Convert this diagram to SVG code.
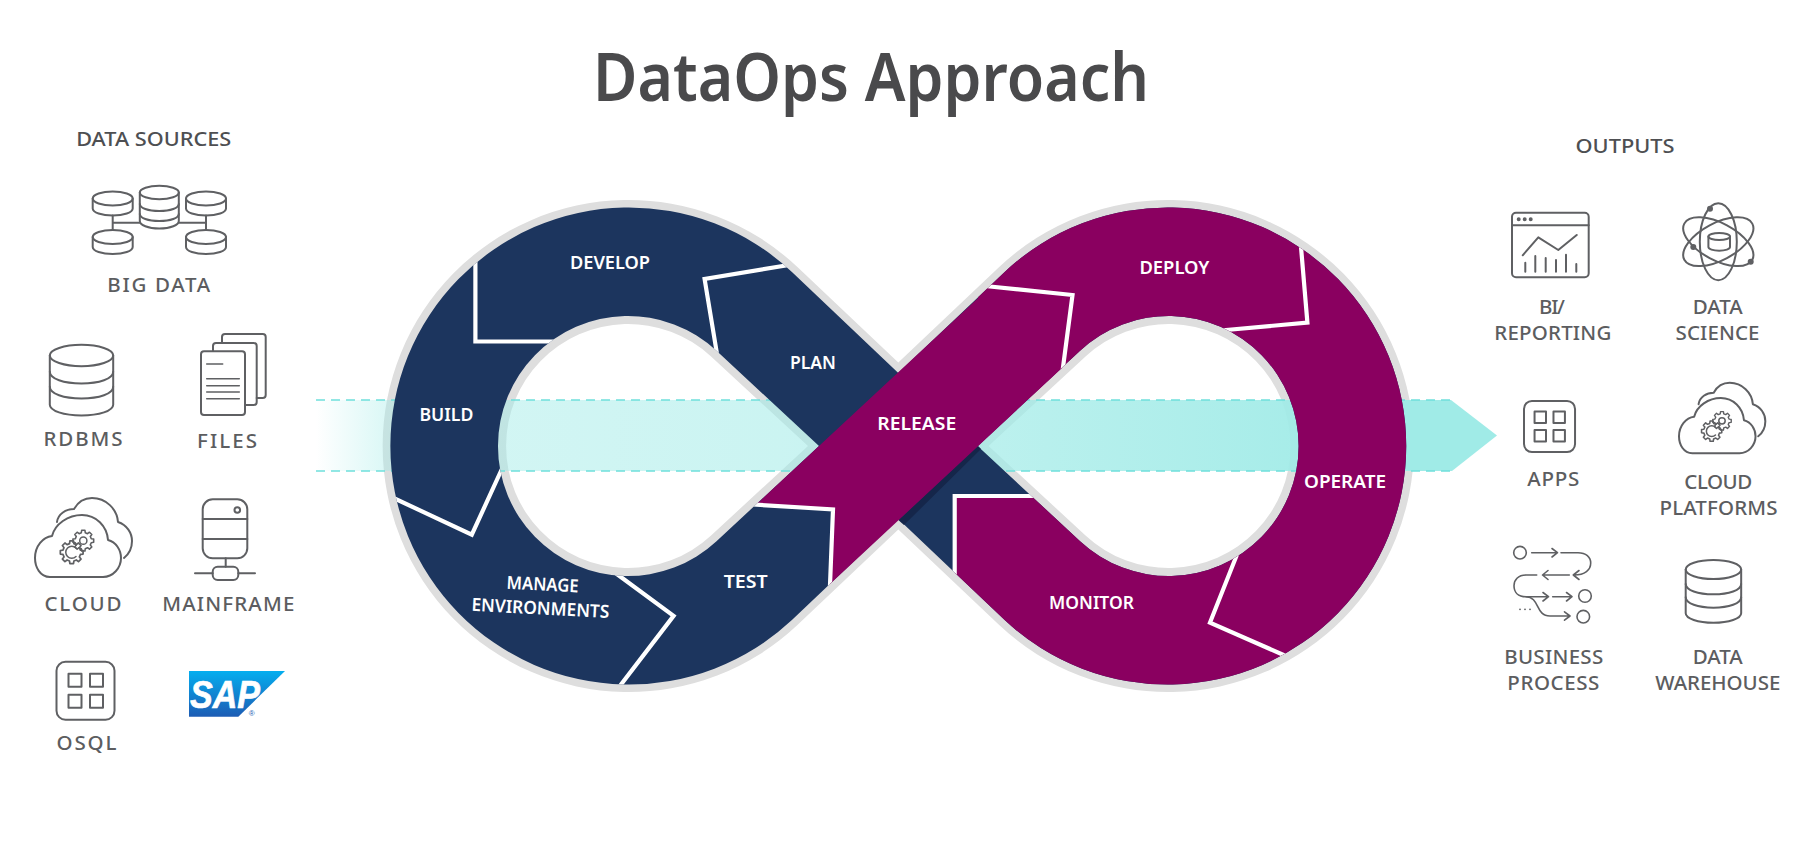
<svg xmlns="http://www.w3.org/2000/svg" xmlns:xlink="http://www.w3.org/1999/xlink" width="1800" height="842" viewBox="0 0 1800 842">
<style>
text{font-family:"Noto Sans","Open Sans","Liberation Sans",sans-serif;text-anchor:middle}
.seg{fill:#fff;font-size:18px;font-weight:600}
.lab{fill:#5c5d60;font-size:20.5px;font-weight:500}
.hd{fill:#4e4f52;font-size:20.5px;font-weight:500}
.ic{fill:none;stroke:#5f6063;stroke-width:2;stroke-linejoin:round;stroke-linecap:round}
.ic *{vector-effect:non-scaling-stroke}
.thin{stroke-width:1.5}
.sep{fill:none;stroke:#fff;stroke-width:4.2;stroke-linejoin:miter}
.dash{fill:none;stroke:#6fe0dc;stroke-width:1.6;stroke-dasharray:9 6}
</style>
<defs>
<linearGradient id="bandG" gradientUnits="userSpaceOnUse" x1="316" y1="0" x2="1497" y2="0">
<stop offset="0" stop-color="#a0ebe7" stop-opacity="0"/>
<stop offset="0.07" stop-color="#a0ebe7" stop-opacity="0.45"/>
<stop offset="0.4" stop-color="#a0ebe7" stop-opacity="0.55"/>
<stop offset="0.62" stop-color="#a0ebe7" stop-opacity="0.75"/>
<stop offset="0.92" stop-color="#a0ebe7" stop-opacity="1"/>
</linearGradient>
<linearGradient id="sapG" x1="0" y1="0" x2="0" y2="1">
<stop offset="0" stop-color="#04aeef"/><stop offset="1" stop-color="#1d5cb4"/>
</linearGradient>
<path id="ribbon" fill-rule="evenodd" d="M898.3,373 L792.2,272.2 A238.5,238.5 0 1 0 792.2,619.8 L898.3,519 L1004.4,619.8 A238.5,238.5 0 1 0 1004.4,272.2 Z M819,446 L716.5,350.8 A130,130 0 1 0 716.5,541.2 Z M977.6,446 L1080.1,350.8 A130,130 0 1 1 1080.1,541.2 Z"/>
<clipPath id="ribbonClip"><path clip-rule="evenodd" d="M898.3,373 L792.2,272.2 A238.5,238.5 0 1 0 792.2,619.8 L898.3,519 L1004.4,619.8 A238.5,238.5 0 1 0 1004.4,272.2 Z M819,446 L716.5,350.8 A130,130 0 1 0 716.5,541.2 Z M977.6,446 L1080.1,350.8 A130,130 0 1 1 1080.1,541.2 Z"/></clipPath>
<clipPath id="rightClip"><polygon points="954.7,842 954.7,496 1040,496 1040,446 978,446 978,0 1800,0 1800,842"/></clipPath>
<g id="db" class="ic">
<ellipse cx="31.7" cy="10.7" rx="31.7" ry="10.7"/>
<path d="M0,10.7 V60 C0,66 14,70.7 31.7,70.7 C49.4,70.7 63.4,66 63.4,60 V10.7"/>
<path d="M0,27 C0,34 14,38.7 31.7,38.7 C49.4,38.7 63.4,34 63.4,27"/>
<path d="M0,42 C0,49 14,53.7 31.7,53.7 C49.4,53.7 63.4,49 63.4,42"/>
</g>
<g id="smallDb" class="ic">
<ellipse cx="20" cy="7" rx="20" ry="7"/>
<path d="M0,7 V17 C0,21 9,24 20,24 C31,24 40,21 40,17 V7"/>
</g>
<g id="grid" class="ic">
<rect x="0" y="0" width="58" height="58" rx="9"/>
<rect x="12" y="12" width="13" height="13"/><rect x="33.5" y="12" width="13" height="13"/>
<rect x="12" y="33" width="13" height="13"/><rect x="33.5" y="33" width="13" height="13"/>
</g>
<path id="gear" d="M7.57,-1.89 L9.88,-1.56 L9.88,1.56 L7.57,1.89 L6.69,4.02 L8.09,5.88 L5.88,8.09 L4.02,6.69 L1.89,7.57 L1.56,9.88 L-1.56,9.88 L-1.89,7.57 L-4.02,6.69 L-5.88,8.09 L-8.09,5.88 L-6.69,4.02 L-7.57,1.89 L-9.88,1.56 L-9.88,-1.56 L-7.57,-1.89 L-6.69,-4.02 L-8.09,-5.88 L-5.88,-8.09 L-4.02,-6.69 L-1.89,-7.57 L-1.56,-9.88 L1.56,-9.88 L1.89,-7.57 L4.02,-6.69 L5.88,-8.09 L8.09,-5.88 L6.69,-4.02 Z"/>
<g id="cloud" class="ic">
<path d="M50,577 C40,577 35,567 35,558 C35,546 43,537 52,536 C55,524 68,515 82,515 C96,515 107,526 108,540 C116,542 121,550 121,558 C121,568 113,577 103,577 Z"/>
<path d="M57,522 C58,514 66,509 74,509 C78,502 85,498 92,498 C106,498 117,509 118,522 C127,525 132,533 132,541 C132,548 129,554 124,558"/>
<g style="stroke-width:1.5">
<use xlink:href="#gear" href="#gear" transform="translate(83.3,540.7) scale(1.05)"/>
<circle cx="83.3" cy="540.7" r="3.6"/>
<use xlink:href="#gear" href="#gear" transform="translate(71.7,552.3) scale(1.15)"/>
<path d="M76,548 A6,6 0 1 0 76,556.5"/>
</g>
</g>
</defs>
<rect width="1800" height="842" fill="#fff"/>
<text id="title" x="871" y="101" style="font-size:66px;font-weight:600;fill:#4a4a4c" textLength="556" lengthAdjust="spacingAndGlyphs">DataOps Approach</text>

<path id="ring" fill="#dedede" fill-rule="evenodd" d="M898.3,362.4 L797.4,267 A246,246 0 1 0 797.4,625 L898.3,529.6 L999.2,625 A246,246 0 1 0 999.2,267 Z M808,446 L710.8,356.3 A122,122 0 1 0 710.8,535.7 Z M988.6,446 L1085.8,356.3 A122,122 0 1 1 1085.8,535.7 Z"/>

<g id="connectors">
<polygon points="316,400 1451,400 1497,435.5 1452,471 316,471" fill="url(#bandG)"/>
<path class="dash" d="M316,400 H1451 M316,471 H1452"/>
</g>

<g id="loop">
<use xlink:href="#ribbon" href="#ribbon" fill="#1c355e"/>
<use xlink:href="#ribbon" href="#ribbon" fill="#8a0060" clip-path="url(#rightClip)"/>
<polygon points="978,446 898.3,520 904,525 981,449" fill="#15264a"/>
<polygon points="756,504.7 990.5,286.5 1072.5,295 1062,368 830,584 833,509.4" fill="#8a0060"/>
<g clip-path="url(#ribbonClip)">
<path class="sep" d="M475.4,250 V341.5 H560"/>
<path class="sep" d="M795,264 L704.6,279 L718,360"/>
<path class="sep" d="M385,494 L471.8,534.7 L506,460"/>
<path class="sep" d="M610,569 L673.6,615.8 L613,695"/>
<path class="sep" d="M745,504 L833,509.4 L829.6,595"/>
<path class="sep" d="M985,286 L1072.5,295 L1062,375"/>
<path class="sep" d="M1300,235 L1307.4,322.6 L1215,331"/>
<path class="sep" d="M1240,547 L1210,622.6 L1295,660"/>
<path class="sep" d="M954.7,585 V496 H1045"/>
</g>
</g>

<g id="seg-develop"><text class="seg" x="610" y="269" textLength="80" lengthAdjust="spacingAndGlyphs">DEVELOP</text></g>
<g id="seg-plan"><text class="seg" x="813" y="369" textLength="46" lengthAdjust="spacingAndGlyphs">PLAN</text></g>
<g id="seg-build"><text class="seg" x="446.4" y="420.5" textLength="54" lengthAdjust="spacingAndGlyphs">BUILD</text></g>
<g id="seg-manage" transform="rotate(3 541 596)"><text class="seg" x="542" y="590.5" textLength="72" lengthAdjust="spacingAndGlyphs">MANAGE</text><text class="seg" x="541" y="614.5" textLength="138" lengthAdjust="spacingAndGlyphs">ENVIRONMENTS</text></g>
<g id="seg-test"><text class="seg" x="745.7" y="587.8" textLength="44" lengthAdjust="spacingAndGlyphs">TEST</text></g>
<g id="seg-release"><text class="seg" x="916.8" y="430" textLength="79" lengthAdjust="spacingAndGlyphs">RELEASE</text></g>
<g id="seg-deploy"><text class="seg" x="1174.4" y="274" textLength="70" lengthAdjust="spacingAndGlyphs">DEPLOY</text></g>
<g id="seg-operate"><text class="seg" x="1345" y="488.4" textLength="82" lengthAdjust="spacingAndGlyphs">OPERATE</text></g>
<g id="seg-monitor"><text class="seg" x="1091.5" y="609.4" textLength="85" lengthAdjust="spacingAndGlyphs">MONITOR</text></g>

<g id="src-head"><text class="hd" x="153.7" y="146" textLength="155" lengthAdjust="spacingAndGlyphs">DATA SOURCES</text></g>
<g id="src-bigdata">
<g class="ic">
<use xlink:href="#smallDb" href="#smallDb" x="92.7" y="191.5"/>
<use xlink:href="#smallDb" href="#smallDb" x="186" y="191.5"/>
<use xlink:href="#smallDb" href="#smallDb" x="92.7" y="230"/>
<use xlink:href="#smallDb" href="#smallDb" x="186" y="230"/>
<ellipse cx="159.3" cy="192.5" rx="19.5" ry="6.7"/>
<path d="M139.8,192.5 V221 C139.8,225 148,228.5 159.3,228.5 C170.6,228.5 178.8,225 178.8,221 V192.5"/>
<path d="M139.8,204 C139.8,208 148,211 159.3,211 C170.6,211 178.8,208 178.8,204"/>
<path d="M139.8,214 C139.8,218 148,221 159.3,221 C170.6,221 178.8,218 178.8,214"/>
<path d="M112.7,215.5 V230 M206,215.5 V230 M112.7,222.7 H139.8 M178.8,222.7 H206"/>
</g>
<text class="lab" x="158.8" y="292" textLength="103" lengthAdjust="spacing">BIG DATA</text>
</g>
<g id="src-rdbms">
<use xlink:href="#db" href="#db" x="49.8" y="344.8"/>
<text class="lab" x="83" y="446" textLength="79" lengthAdjust="spacing">RDBMS</text>
</g>
<g id="src-files">
<g class="ic">
<rect x="201" y="351.3" width="44" height="63.7" rx="3"/>
<path d="M213,351 V346 Q213,343 216,343 H253.7 Q256.7,343 256.7,346 V402 Q256.7,405 253.7,405 H245"/>
<path d="M222,343 V337 Q222,334 225,334 H262.7 Q265.7,334 265.7,337 V395 Q265.7,398 262.7,398 H256.7"/>
<path style="stroke-width:1.5" d="M206.7,364 H222.7 M206.7,378.7 H239.3 M206.7,385.7 H239.3 M206.7,392 H239.3 M206.7,398.7 H239.3"/>
</g>
<text class="lab" x="227" y="447.5" textLength="60" lengthAdjust="spacing">FILES</text>
</g>
<g id="src-cloud">
<use xlink:href="#cloud" href="#cloud"/>
<text class="lab" x="83" y="611" textLength="77" lengthAdjust="spacing">CLOUD</text>
</g>
<g id="src-mainframe">
<g class="ic">
<rect x="202.7" y="499.3" width="44.6" height="59" rx="10"/>
<path d="M202.7,519 H247.3 M202.7,539 H247.3 M225.7,558.3 V566.7 M195,573.3 H212.7 M238.3,573.3 H255"/>
<circle cx="237.3" cy="510" r="2.8"/>
<rect x="212.7" y="566.7" width="25.6" height="13.3" rx="5"/>
</g>
<text class="lab" x="228.3" y="611" textLength="132" lengthAdjust="spacing">MAINFRAME</text>
</g>
<g id="src-osql">
<use xlink:href="#grid" href="#grid" x="56.5" y="661.8"/>
<text class="lab" x="86.5" y="749.5" textLength="60" lengthAdjust="spacing">OSQL</text>
</g>
<g id="src-sap">
<polygon points="189,671 285,671 238.3,716.7 189,716.7" fill="url(#sapG)"/>
<text x="225" y="708" style="font-family:'Liberation Sans',sans-serif;font-size:39px;font-weight:700;font-style:italic;fill:#fff;stroke:#fff;stroke-width:0.7" textLength="70" lengthAdjust="spacingAndGlyphs">SAP</text>
<text x="251.7" y="716" style="font-family:'Liberation Sans',sans-serif;font-size:8px;fill:#1d5cb4">®</text>
</g>

<g id="out-head"><text class="hd" x="1625" y="152.7" textLength="99" lengthAdjust="spacingAndGlyphs">OUTPUTS</text></g>
<g id="out-bi">
<g class="ic">
<rect x="1512" y="212.7" width="76.7" height="64.6" rx="4"/>
<path d="M1512,225.3 H1588.7"/>
<circle cx="1518.7" cy="219.3" r="1"/><circle cx="1524.7" cy="219.3" r="1"/><circle cx="1530.7" cy="219.3" r="1"/>
<polyline points="1522.7,255.3 1538.3,237.3 1558.3,250 1576.7,235"/>
<path d="M1525.3,262.7 V271.7 M1535.3,256 V271.7 M1545.7,258 V271.7 M1556,260 V271.7 M1566,254.7 V271.7 M1576.3,264 V271.7"/>
</g>
<text class="lab" x="1552" y="313.5" textLength="26" lengthAdjust="spacing">BI/</text>
<text class="lab" x="1552.8" y="340" textLength="117" lengthAdjust="spacing">REPORTING</text>
</g>
<g id="out-science">
<g class="ic">
<ellipse cx="1718.3" cy="241.7" rx="18.5" ry="38.5"/>
<ellipse cx="1718.3" cy="241.7" rx="18.5" ry="38.5" transform="rotate(62 1718.3 241.7)"/>
<ellipse cx="1718.3" cy="241.7" rx="18.5" ry="38.5" transform="rotate(-62 1718.3 241.7)"/>
<ellipse cx="1719.2" cy="236.5" rx="10.8" ry="3.6"/>
<path d="M1708.4,236.5 V247 C1708.4,249 1713,250.7 1719.2,250.7 C1725.4,250.7 1730,249 1730,247 V236.5"/>
</g>
<circle cx="1710" cy="208.7" r="3" fill="#5f6063"/><circle cx="1693.3" cy="247" r="3" fill="#5f6063"/><circle cx="1750.7" cy="261.7" r="3" fill="#5f6063"/>
<text class="lab" x="1717.8" y="313.5" textLength="50" lengthAdjust="spacing">DATA</text>
<text class="lab" x="1717.5" y="340" textLength="84" lengthAdjust="spacing">SCIENCE</text>
</g>
<g id="out-apps">
<use xlink:href="#grid" href="#grid" transform="translate(1524,401) scale(0.88)"/>
<text class="lab" x="1553.2" y="485.5" textLength="52" lengthAdjust="spacing">APPS</text>
</g>
<g id="out-cloud">
<use xlink:href="#cloud" href="#cloud" transform="translate(1679,398) scale(0.89) translate(-35,-515)"/>
<text class="lab" x="1718.3" y="488.5" textLength="68" lengthAdjust="spacing">CLOUD</text>
<text class="lab" x="1718.5" y="515" textLength="118" lengthAdjust="spacing">PLATFORMS</text>
</g>
<g id="out-process">
<g class="ic" style="stroke-width:1.6">
<circle cx="1520" cy="552.7" r="6.3"/>
<path d="M1531.7,552.7 H1557.3 M1552,548.5 L1557.5,552.7 L1552,557"/>
<path d="M1561,552.7 H1578 C1586,552.7 1590.7,557 1590.7,563 C1590.7,570 1585,575 1574,575 M1579,570.5 L1573.3,575 L1579,579.5"/>
<path d="M1569.3,575 H1542.7 M1548,570.5 L1542.5,575 L1548,579.5"/>
<path d="M1536.7,575 H1526 C1518,575 1514,580 1514,585.7 C1514,592 1518,596.7 1526,596.7 H1548.3 M1543,592.5 L1548.5,596.7 L1543,601"/>
<path d="M1552.7,596.7 H1571.7 M1566.5,592.5 L1572,596.7 L1566.5,601"/>
<circle cx="1585" cy="596" r="6.3"/>
<path d="M1526,596.7 C1540,597 1535,616 1550,616 H1570 M1564.5,611.8 L1570,616 L1564.5,620.2"/>
<circle cx="1583.3" cy="616.7" r="6.3"/>
</g>
<circle cx="1520" cy="609.3" r="0.9" fill="#5f6063"/><circle cx="1525" cy="609.3" r="0.9" fill="#5f6063"/><circle cx="1530" cy="609.3" r="0.9" fill="#5f6063"/>
<text class="lab" x="1553.7" y="663.5" textLength="99" lengthAdjust="spacing">BUSINESS</text>
<text class="lab" x="1553.3" y="689.5" textLength="92" lengthAdjust="spacing">PROCESS</text>
</g>
<g id="out-warehouse">
<use xlink:href="#db" href="#db" transform="translate(1685.7,560) scale(0.875,0.887)"/>
<text class="lab" x="1717.8" y="663.5" textLength="50" lengthAdjust="spacing">DATA</text>
<text class="lab" x="1717.8" y="689.5" textLength="125" lengthAdjust="spacing">WAREHOUSE</text>
</g>
</svg>
